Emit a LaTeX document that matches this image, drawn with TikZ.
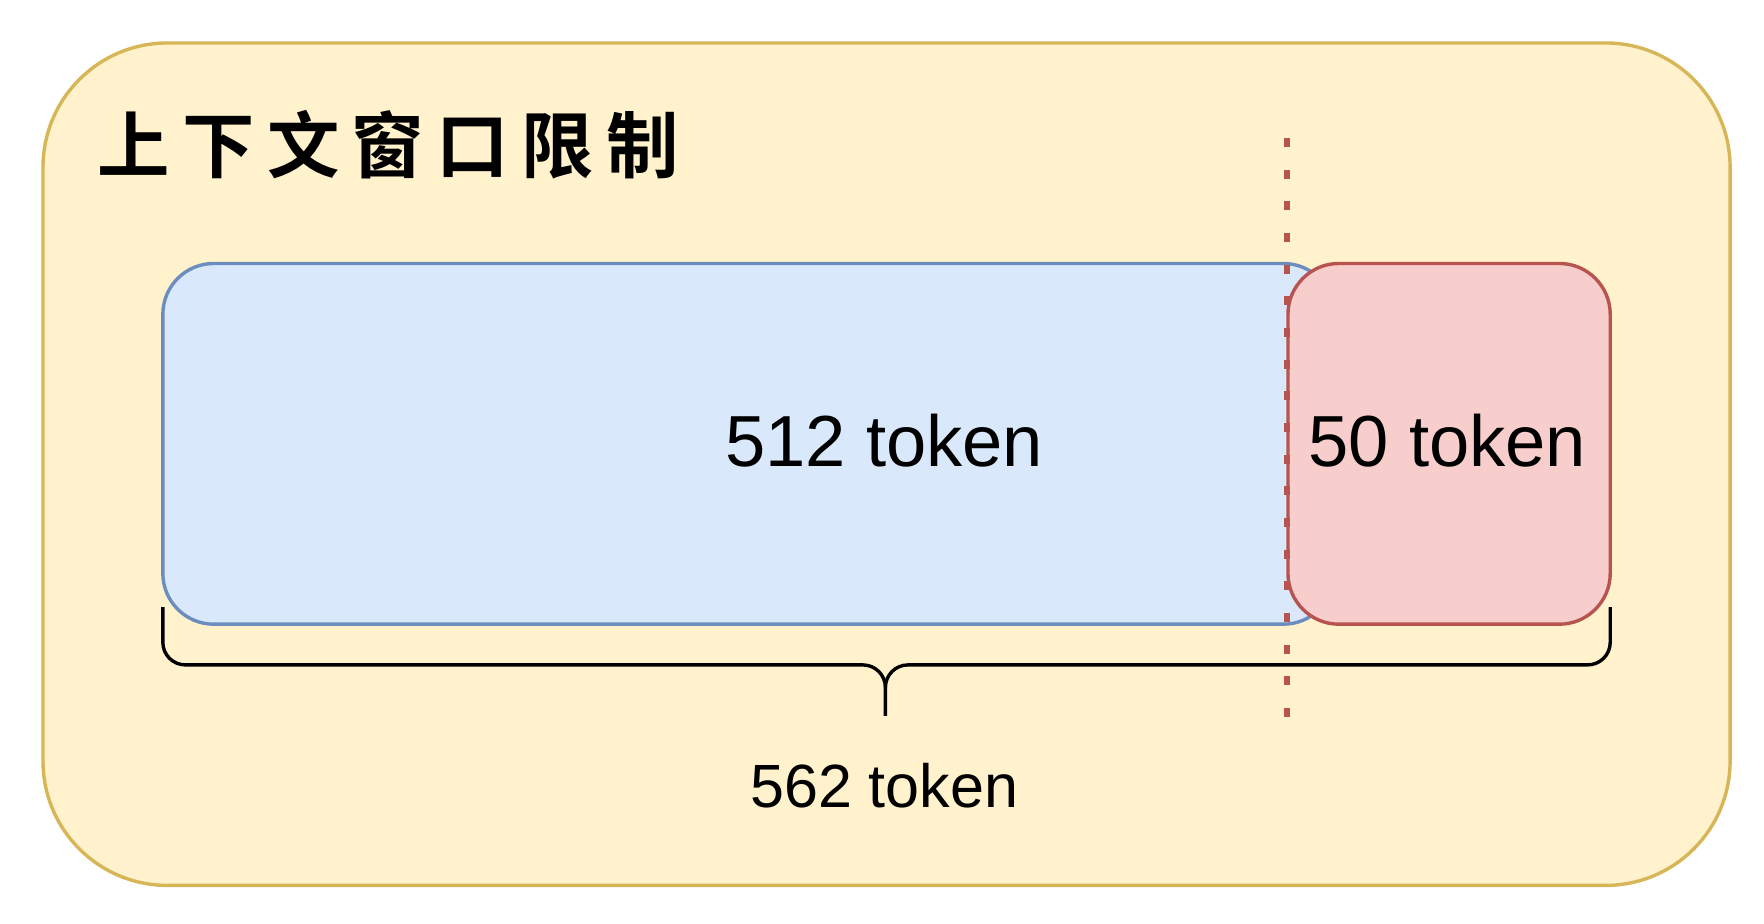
\documentclass[tikz,border=0pt]{standalone}
\usepackage{fontspec}
\setmainfont{Liberation Sans}
\newfontfamily\cjk{Noto Sans CJK SC Bold}
\definecolor{ylwD}{RGB}{214,182,86}
\definecolor{ylwF}{RGB}{255,242,204}
\definecolor{bluD}{RGB}{108,142,191}
\definecolor{bluF}{RGB}{218,232,252}
\definecolor{redD}{RGB}{184,84,80}
\definecolor{redF}{RGB}{248,206,204}
\newcommand{\gp}{\hspace{11pt}}
\begin{document}
\begin{tikzpicture}[x=1pt,y=-1pt,
  lbl/.style={inner sep=0pt,font=\fontsize{64}{76}\selectfont}]
\useasboundingbox (0,0) rectangle (1560,817);
\node[draw=ylwD,line width=3pt,fill=ylwF,rounded corners=110pt,minimum width=1492pt,minimum height=745pt,inner sep=0pt] (outer) at (784,410.5) {};
\node[anchor=west,inner sep=0pt,font=\cjk\fontsize{64}{70}\selectfont] (title) at (86,128) {上\gp 下\gp 文\gp 窗\gp 口\gp 限\gp 制};
\node[draw=bluD,line width=3pt,fill=bluF,rounded corners=45pt,minimum width=1036pt,minimum height=319pt,inner sep=0pt] (blue) at (662,392.5) {};
\node[draw=redD,line width=3pt,fill=redF,rounded corners=45pt,minimum width=285pt,minimum height=319pt,inner sep=0pt] (red) at (1281.5,392.5) {};
\node[lbl] (t512) at (782,390) {512 token};
\node[lbl] (t50) at (1280,390) {50 token};
\coordinate (d1) at (1138,122);
\coordinate (d2) at (1138,637);
\draw[redD,line width=5pt,dash pattern=on 8pt off 20pt] (d1) -- (d2);
\coordinate (bl) at (144,537);
\coordinate (br) at (1424,537);
\coordinate (tip) at (783,633);
\draw[line width=3pt] (bl) -- (144,568) to[out=-90,in=180] (164,588) -- (763,588) to[out=0,in=90] (783,608) -- (tip);
\draw[line width=3pt] (br) -- (1424,568) to[out=-90,in=0] (1404,588) -- (803,588) to[out=180,in=90] (783,608);
\node[inner sep=0pt,font=\fontsize{54}{64}\selectfont] (t562) at (782,695) {562 token};
\end{tikzpicture}
\end{document}
